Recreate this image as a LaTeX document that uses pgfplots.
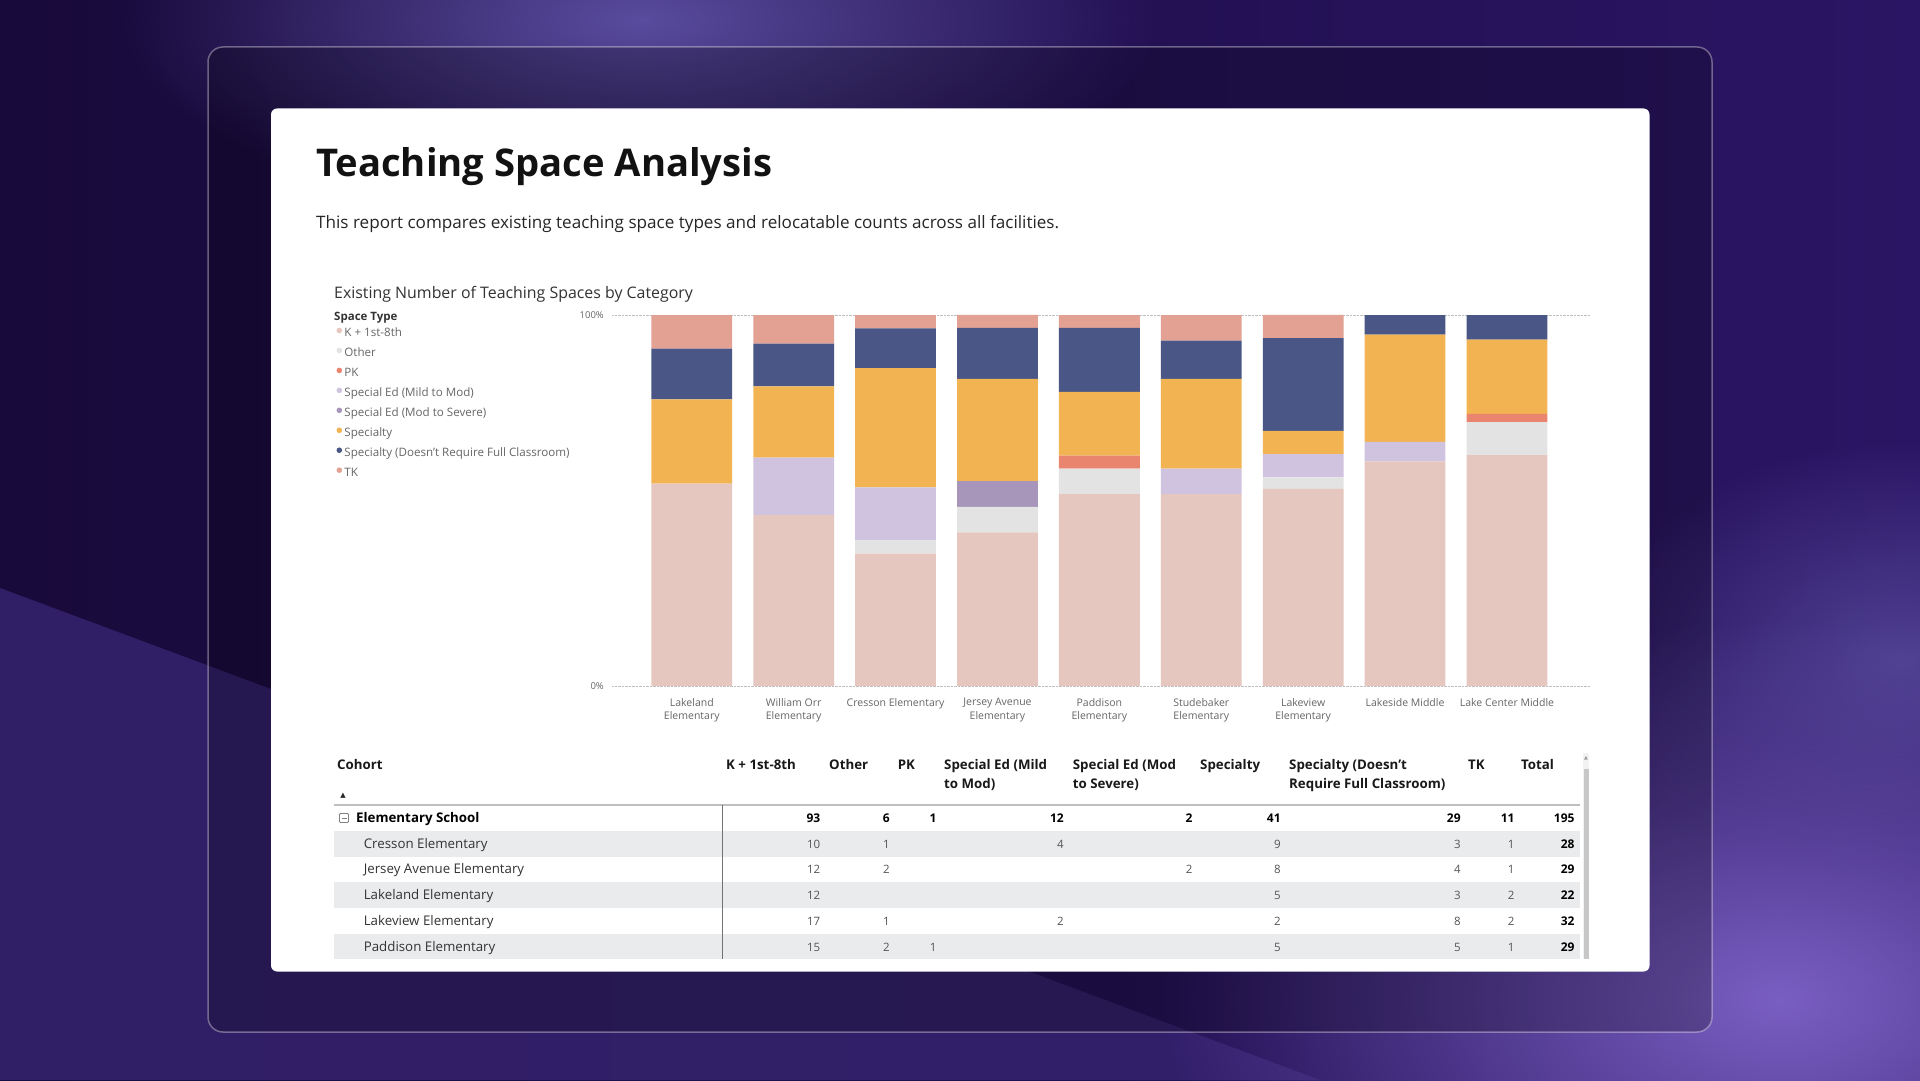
\documentclass[border=0pt]{standalone}
\usepackage{fontspec}
\setmainfont{Open Sans}
\newfontfamily\symfont{DejaVu Sans}
\usepackage{pgfplots}
\usepackage{pgfplotstable}
\pgfplotsset{compat=1.18}
\usetikzlibrary{fadings}

\definecolor{ck}{HTML}{E6C7BF}
\definecolor{cother}{HTML}{E3E3E3}
\definecolor{cpk}{HTML}{E9846F}
\definecolor{csemm}{HTML}{D0C3E0}
\definecolor{csems}{HTML}{A896BA}
\definecolor{cspec}{HTML}{F2B452}
\definecolor{csd}{HTML}{4A5786}
\definecolor{ctk}{HTML}{E3A194}
\definecolor{bgA}{HTML}{180A3A}
\definecolor{bgB}{HTML}{2A1564}
\definecolor{glowA}{HTML}{5A4C9E}
\definecolor{glowB}{HTML}{7A5FC2}
\definecolor{band}{HTML}{35226E}
\definecolor{rowgrey}{HTML}{EAEBEC}
\definecolor{txtgrey}{HTML}{666666}
\definecolor{numgrey}{HTML}{555555}

\tikzfading[name=softglow, inner color=transparent!0, outer color=transparent!100]

\newcommand{\fs}[2]{\fontsize{#1}{#2}\selectfont}

\pgfplotsset{cl/.style={fill=#1, draw=none, legend image code/.code={\fill[#1] (0pt,3.6pt) circle (2.8pt);}}}

\pgfplotstableread{
x K Other PK SEMM SEMS Spec SDRFC TK Total
0 12 0 0 0 0 5 3 2 22
1 12 0 0 4 0 5 3 2 26
2 10 1 0 4 0 9 3 1 28
3 12 2 0 0 2 8 4 1 29
4 15 2 1 0 0 5 5 1 29
5 15 0 0 2 0 7 3 2 29
6 17 1 0 2 0 2 8 2 32
7 23 0 0 2 0 11 2 0 38
8 28 4 1 0 0 9 3 0 45
}\spaces

\begin{document}
\begin{tikzpicture}[x=1pt,y=1pt]
\useasboundingbox (0,0) rectangle (1920,1080);
% ---------- background ----------
\begin{scope}
\clip (0,0) rectangle (1920,1080);
\shade[left color=bgA, right color=bgB] (0,0) rectangle (1920,1080);
\fill[band, opacity=0.85] (0,492) -- (1320,0) -- (0,0) -- cycle;
\fill[glowA, path fading=softglow] (640,1060) ellipse (520 and 200);
\fill[glowB, path fading=softglow] (1780,80) ellipse (620 and 380);
\fill[glowA, path fading=softglow, opacity=0.8] (1900,420) ellipse (320 and 220);
\end{scope}
% frame
\fill[black, opacity=0.22, rounded corners=15] (208,48) rectangle (1712,1033);
\draw[white, opacity=0.35, line width=1.5, rounded corners=15] (208,48) rectangle (1712,1033);
% card
\fill[white, rounded corners=6] (271,108.5) rectangle (1649.5,971.5);

% ---------- titles ----------
\node[anchor=base west, inner sep=0, font=\fs{38.2}{44}\bfseries, text=black!93] at (316,903) {Teaching Space Analysis};
\node[anchor=base west, inner sep=0, font=\fs{17.1}{20}, text=black!85] at (316,851) {This report compares existing teaching space types and relocatable counts across all facilities.};
\node[anchor=base west, inner sep=0, font=\fs{15.9}{18}, text=black!80] at (334,781) {Existing Number of Teaching Spaces by Category};
\node[anchor=base west, inner sep=0, font=\fs{11.5}{13}\bfseries, text=black!80] at (334,759) {Space Type};

% ---------- chart ----------
\begin{axis}[
  at={(612pt,394pt)}, anchor=south west,
  scale only axis, width=978pt, height=371pt,
  xmin=-0.783, xmax=8.815, ymin=0, ymax=100,
  ybar stacked, bar width=80.8pt,
  axis line style={draw=none}, major tick style={draw=none},
  ytick={0,100}, yticklabels={0\%,100\%},
  ymajorgrids, grid style={densely dotted, black!25, line width=0.8pt},
  yticklabel style={font=\fs{9.5}{11}, text=txtgrey, inner sep=0pt, anchor=east, xshift=-8pt},
  xtick={0,...,8},
  xticklabels={{Lakeland\\Elementary},{William Orr\\Elementary},{Cresson Elementary},{Jersey Avenue\\Elementary},{Paddison\\Elementary},{Studebaker\\Elementary},{Lakeview\\Elementary},{Lakeside Middle},{Lake Center Middle}},
  xticklabel style={font=\fs{10.5}{13.6}, text=txtgrey, align=center, inner sep=0pt, anchor=north, yshift=-12pt},
  legend style={at={(-0.2817,0.9657)}, anchor=north west, draw=none, fill=none, inner sep=0pt, outer sep=0pt,
    font=\fs{11.6}{13}, text=txtgrey, row sep=8.3pt, column sep=2.3pt,
    nodes={inner sep=0pt, text height=8pt, text depth=2.5pt, anchor=west}},
  legend cell align=left,
  legend entries={K + 1st-8th,Other,PK,Special Ed (Mild to Mod),Special Ed (Mod to Severe),Specialty,Specialty (Doesn't Require Full Classroom),TK},
]
\addplot[cl=ck] table[x=x, y expr=\thisrow{K}/\thisrow{Total}*100] {\spaces};
\addplot[cl=cother] table[x=x, y expr=\thisrow{Other}/\thisrow{Total}*100] {\spaces};
\addplot[cl=cpk] table[x=x, y expr=\thisrow{PK}/\thisrow{Total}*100] {\spaces};
\addplot[cl=csemm] table[x=x, y expr=\thisrow{SEMM}/\thisrow{Total}*100] {\spaces};
\addplot[cl=csems] table[x=x, y expr=\thisrow{SEMS}/\thisrow{Total}*100] {\spaces};
\addplot[cl=cspec] table[x=x, y expr=\thisrow{Spec}/\thisrow{Total}*100] {\spaces};
\addplot[cl=csd] table[x=x, y expr=\thisrow{SDRFC}/\thisrow{Total}*100] {\spaces};
\addplot[cl=ctk] table[x=x, y expr=\thisrow{TK}/\thisrow{Total}*100] {\spaces};
\end{axis}

% ---------- table ----------
\fill[rowgrey] (334,223.5) rectangle (1580,249);
\fill[rowgrey] (334,172.2) rectangle (1580,197.8);
\fill[rowgrey] (334,120.8) rectangle (1580,146.4);
\draw[black!25, line width=2] (334,275.5) -- (1580,275.5);
\draw[black!55, line width=1] (722.5,275) -- (722.5,121);
% scrollbar
\fill[black!5] (1583,121) rectangle (1589,327);
\fill[black!22] (1583.5,121) rectangle (1588.5,311);
\node[inner sep=0, font=\symfont\fs{5}{6}, text=black!40] at (1586,322) {▲};

\begin{scope}[every node/.style={inner sep=0, font=\fs{13.3}{15}\bfseries, text=black!90, anchor=base west}]
\node at (337,310) {Cohort};
\node at (726,310) {K + 1st-8th};
\node at (829,310) {Other};
\node at (897.6,310) {PK};
\node at (944,310) {Special Ed (Mild};
\node at (944,291) {to Mod)};
\node at (1072.7,310) {Special Ed (Mod};
\node at (1072.7,291) {to Severe)};
\node at (1200,310) {Specialty};
\node at (1289,310) {Specialty (Doesn't};
\node at (1289,291) {Require Full Classroom)};
\node at (1468,310) {TK};
\node at (1520.8,310) {Total};
\end{scope}
\node[inner sep=0, font=\symfont\fs{7}{8}, text=black!85] at (343,284) {▲};

% expand icon
\draw[black!50, line width=0.8, rounded corners=1] (339.5,257.5) rectangle (348.5,266.5);
\draw[black!50, line width=0.8] (341.5,262) -- (346.5,262);

\node[anchor=base west, inner sep=0, font=\fs{13.3}{15}\bfseries, text=black] at (356,257.5) {Elementary School};
\begin{scope}[every node/.style={anchor=base west, inner sep=0, font=\fs{13.3}{15}, text=black!80}]
\node at (363.6,231.8) {Cresson Elementary};
\node at (363.6,206.1) {Jersey Avenue Elementary};
\node at (363.6,180.5) {Lakeland Elementary};
\node at (363.6,154.7) {Lakeview Elementary};
\node at (363.6,129) {Paddison Elementary};
\end{scope}

% totals row
\foreach \xx/\vv in {820.4/93, 890/6, 936.7/1, 1064/12, 1192.6/2, 1280.8/41, 1460.8/29, 1514.7/11, 1574.7/195}
  \node[anchor=base east, inner sep=0, font=\fs{12}{14}\bfseries, text=black] at (\xx,257.5) {\vv};
% child rows
\begin{scope}[every node/.style={anchor=base east, inner sep=0, font=\fs{11.5}{14}, text=numgrey}]
\foreach \xx/\vv in {820.4/10, 890/1, 1064/4, 1280.8/9, 1460.8/3, 1514.7/1} \node at (\xx,231.8) {\vv};
\foreach \xx/\vv in {820.4/12, 890/2, 1192.6/2, 1280.8/8, 1460.8/4, 1514.7/1} \node at (\xx,206.1) {\vv};
\foreach \xx/\vv in {820.4/12, 1280.8/5, 1460.8/3, 1514.7/2} \node at (\xx,180.5) {\vv};
\foreach \xx/\vv in {820.4/17, 890/1, 1064/2, 1280.8/2, 1460.8/8, 1514.7/2} \node at (\xx,154.7) {\vv};
\foreach \xx/\vv in {820.4/15, 890/2, 936.7/1, 1280.8/5, 1460.8/5, 1514.7/1} \node at (\xx,129) {\vv};
\end{scope}
\begin{scope}[every node/.style={anchor=base east, inner sep=0, font=\fs{12}{14}\bfseries, text=black}]
\node at (1574.7,231.8) {28};
\node at (1574.7,206.1) {29};
\node at (1574.7,180.5) {22};
\node at (1574.7,154.7) {32};
\node at (1574.7,129) {29};
\end{scope}
\end{tikzpicture}
\end{document}
